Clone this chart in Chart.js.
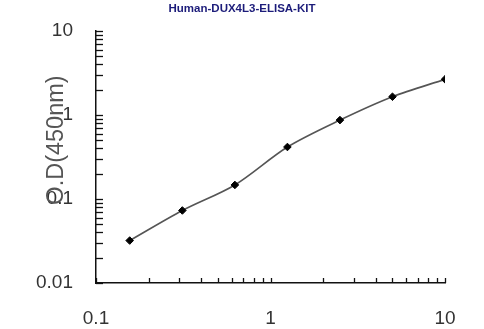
<!DOCTYPE html>
<html lang="en">
<head>
  <meta charset="UTF-8">
  <title>Human-DUX4L3-ELISA-KIT</title>
  <script src="https://cdn.jsdelivr.net/npm/chart.js"></script>
  <style>
    body { margin: 0; background: #fff; }
    .container { width: 484px; height: 329px; }
  </style>
</head>
<body>
  <div class="container">
    <canvas id="myChart"></canvas>
  </div>
  <script>
    // concentration (x) and optical density (y)
    const concentrations = [0.156, 0.3125, 0.625, 1.25, 2.5, 5, 10];
    const odValues = [0.032, 0.073, 0.147, 0.416, 0.87, 1.65, 2.66];
    const xTickValues = [0.1, 1, 10];
    const yTickValues = [0.01, 0.1, 1, 10];
    const chartTitle = 'Human-DUX4L3-ELISA-KIT';
    const yTitle = 'O.D(450nm)';

    // title centred on the whole canvas, not just the padded box
    const centreTitle = {
      id: 'centreTitle',
      afterLayout(chart) {
        const t = chart.titleBlock;
        if (t) { t.left = 0; t.right = chart.width; t.width = chart.width; }
      }
    };

    // ticks drawn inward, every 1..9 step of each decade
    const innerTicks = {
      id: 'innerTicks',
      afterDraw(chart) {
        const ctx = chart.ctx;
        const area = chart.chartArea;
        ctx.save();
        ctx.strokeStyle = '#111';
        ctx.lineWidth = 1.3;
        ['x', 'y'].forEach(id => {
          const scale = chart.scales[id];
          const lo = Math.floor(Math.log10(scale.min));
          const hi = Math.ceil(Math.log10(scale.max));
          for (let d = lo; d <= hi; d++) {
            for (let m = 1; m <= 9; m++) {
              const v = m * Math.pow(10, d);
              if (v < scale.min * 0.999 || v > scale.max * 1.001) continue;
              const p = Math.round(scale.getPixelForValue(v)) + 0.5;
              ctx.beginPath();
              if (id === 'x') {
                ctx.moveTo(p, area.bottom);
                ctx.lineTo(p, area.bottom - 5);
              } else {
                ctx.moveTo(area.left, p);
                ctx.lineTo(area.left + 7, p);
              }
              ctx.stroke();
            }
          }
        });
        // y axis title sits over the tick labels, like the original
        ctx.translate(57, 140);
        ctx.rotate(-Math.PI / 2);
        ctx.fillStyle = '#555';
        ctx.font = '23.5px "Liberation Sans", Arial, sans-serif';
        ctx.textAlign = 'center';
        ctx.textBaseline = 'middle';
        ctx.fillText(yTitle, 0, 0);
        ctx.restore();
      }
    };

    const ctx = document.getElementById('myChart').getContext('2d');
    const myChart = new Chart(ctx, {
      type: 'scatter',
      data: {
        datasets: [{
          data: concentrations.map((c, i) => ({ x: c, y: odValues[i] })),
          showLine: true,
          tension: 0.3,
          borderColor: '#555',
          borderWidth: 1.6,
          pointStyle: 'rectRot',
          pointRadius: 3.8,
          pointBackgroundColor: '#000',
          pointBorderColor: '#000',
          pointBorderWidth: 1
        }]
      },
      options: {
        responsive: true,
        maintainAspectRatio: false,
        animation: false,
        layout: { padding: { left: 0, right: 39, bottom: 0, top: 0 } },
        scales: {
          x: {
            type: 'logarithmic',
            min: 0.1,
            max: 10,
            afterBuildTicks: s => { s.ticks = xTickValues.map(v => ({ value: v })); },
            afterFit: s => { s.height = 46; },
            grid: { display: false, drawTicks: false },
            border: { display: true, color: '#111', width: 1.5 },
            ticks: {
              padding: 24,
              color: '#333',
              font: { size: 19, family: '"Liberation Sans", Arial, sans-serif' },
              maxRotation: 0,
              autoSkip: false,
              callback: v => String(v)
            }
          },
          y: {
            type: 'logarithmic',
            min: 0.01,
            max: 10,
            afterBuildTicks: s => { s.ticks = yTickValues.map(v => ({ value: v })); },
            afterFit: s => { s.width = 96; s.paddingTop = 0; s.paddingBottom = 0; },
            grid: { display: false, drawTicks: false },
            border: { display: true, color: '#111', width: 1.5 },
            ticks: {
              padding: 23,
              color: '#333',
              font: { size: 19, family: '"Liberation Sans", Arial, sans-serif' },
              autoSkip: false,
              callback: v => String(v)
            }
          }
        },
        plugins: {
          legend: { display: false },
          tooltip: { enabled: false },
          title: {
            display: true,
            text: chartTitle,
            color: '#1c1c7a',
            font: { size: 11.5, weight: 'bold', family: '"Liberation Sans", Arial, sans-serif' },
            padding: { top: 2, bottom: 15.2 }
          }
        }
      },
      plugins: [centreTitle, innerTicks]
    });
  </script>
</body>
</html>
